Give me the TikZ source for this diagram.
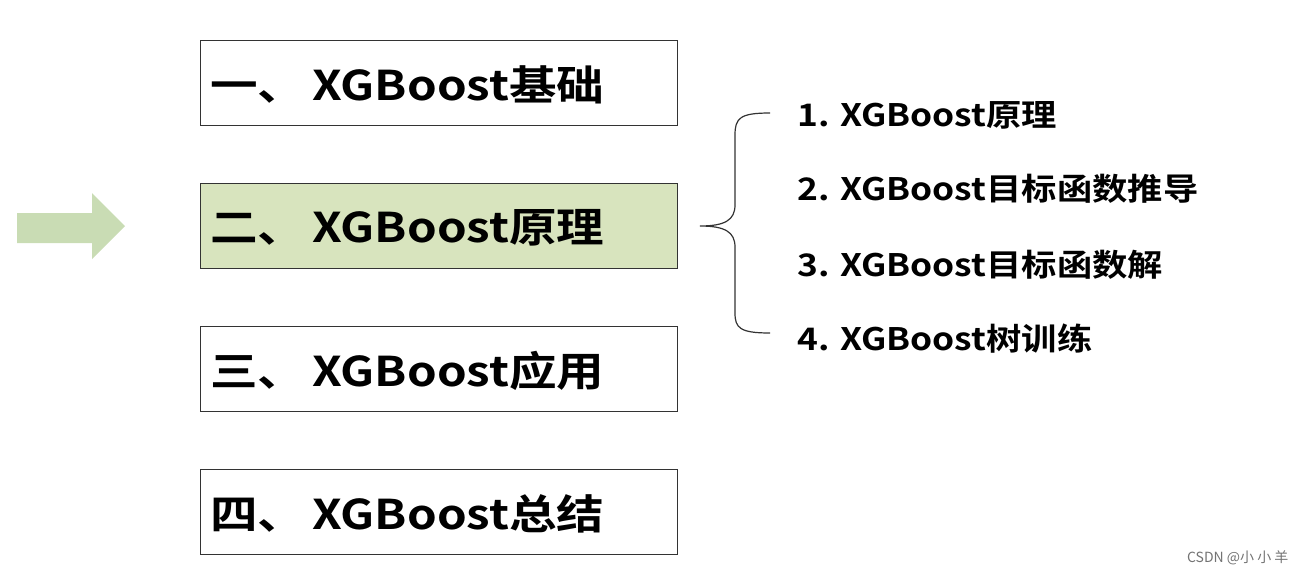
\documentclass[tikz,border=0pt]{standalone}
\usepackage{fontspec}
\setmainfont{Noto Sans CJK SC}
\newfontfamily\cjkb{Noto Sans CJK SC Bold}
\begin{document}
\begin{tikzpicture}[x=1pt,y=-1pt,
  sect/.style={draw=black!80,line width=1pt,minimum width=477pt,minimum height=85pt,anchor=north west,inner sep=0pt},
  stxt/.style={anchor=west,inner sep=0pt,font=\cjkb\fontsize{41}{44}\selectfont,xscale=1.16},
  itxt/.style={anchor=west,inner sep=0pt,font=\cjkb\fontsize{31}{34}\selectfont,xscale=1.14}]
\useasboundingbox (0,0) rectangle (1302,576);
\definecolor{hl}{HTML}{D8E4BE}
\definecolor{arr}{HTML}{C9DCB4}
\node[sect] (b1) at (200,40) {};
\node[sect,fill=hl] (b2) at (200,183) {};
\node[sect] (b3) at (200,326) {};
\node[sect] (b4) at (200,469) {};
\node[stxt] (t1) at (210,85) {一、\hspace{6pt}XGBoost基础};
\node[stxt] (t2) at (210,228) {二、\hspace{6pt}XGBoost原理};
\node[stxt] (t3) at (210,371) {三、\hspace{6pt}XGBoost应用};
\node[stxt] (t4) at (210,514) {四、\hspace{6pt}XGBoost总结};
\fill[arr] (17,213) -- (92,213) -- (92,193) -- (125,226) -- (92,259) -- (92,243) -- (17,243) -- cycle;
\coordinate (bt) at (770,113);
\coordinate (bm) at (700,226);
\coordinate (bb) at (770,333);
\draw[line width=1.2pt,black!80] (bt) .. controls (740,113) and (735,118) .. (735,135) -- (735,205) .. controls (735,220) and (725,226) .. (bm)
  .. controls (725,226) and (735,232) .. (735,247) -- (735,313) .. controls (735,328) and (740,333) .. (bb);
\node[itxt] (i1) at (797,115) {1. XGBoost原理};
\node[itxt] (i2) at (797,189) {2. XGBoost目标函数推导};
\node[itxt] (i3) at (797,265) {3. XGBoost目标函数解};
\node[itxt] (i4) at (797,339) {4. XGBoost树训练};
\node[anchor=east,text=black!55,font=\fontsize{14}{16}\selectfont] (wm) at (1292,558) {CSDN @小 小 羊};
\end{tikzpicture}
\end{document}
